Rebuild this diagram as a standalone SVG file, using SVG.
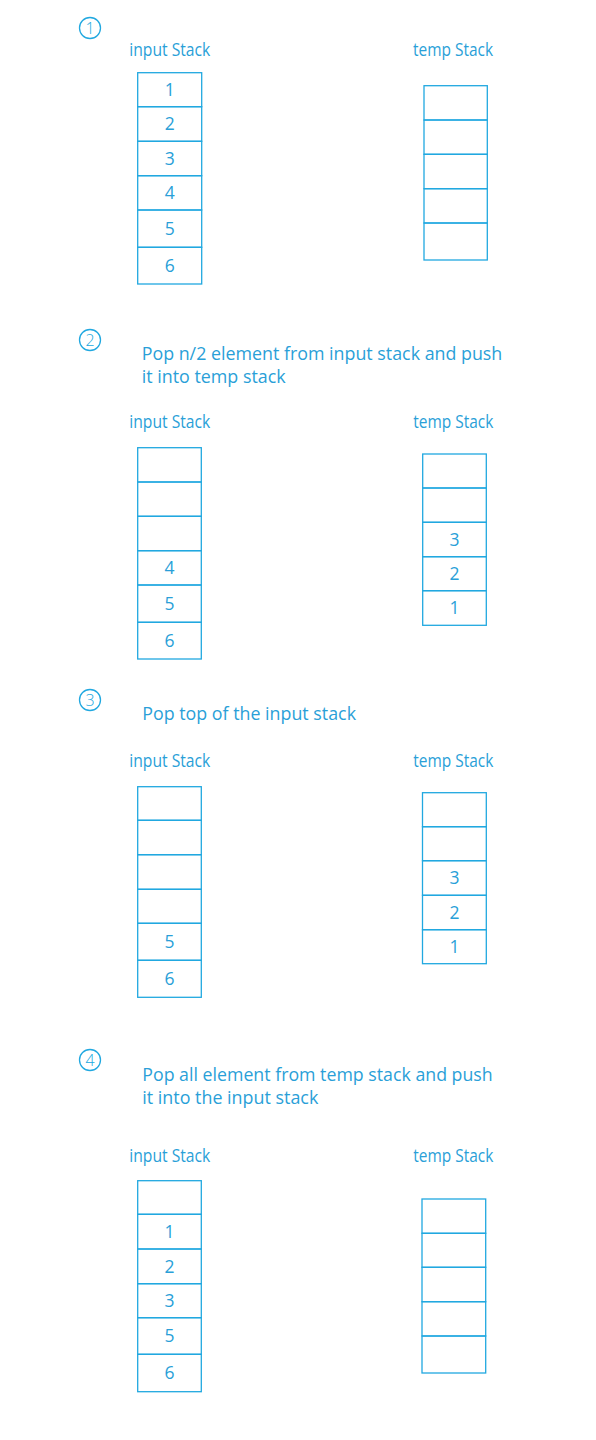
<svg xmlns="http://www.w3.org/2000/svg" width="596" height="1440" viewBox="0 0 596 1440">
<style>
.bg{fill:#ffffff}
.cell{fill:none;stroke:#21a8e0;stroke-width:1.3}
.num{font-family:"Open Sans","Noto Sans",sans-serif;font-size:17.5px;fill:#2a9fd8;text-anchor:middle}
.lbl{font-family:"Open Sans","Noto Sans",sans-serif;font-size:18.5px;fill:#2a9fd8}
.desc{font-family:"Open Sans","Noto Sans",sans-serif;font-size:18.6px;fill:#2a9fd8}
.step{fill:none;stroke:#21a8e0;stroke-width:1.3}
.stepn{font-family:"Open Sans","Noto Sans",sans-serif;font-size:16px;font-weight:300;fill:#21a8e0;text-anchor:middle}
</style>
<rect class="bg" x="0" y="0" width="596" height="1440"/>

<!-- Step 1 -->
<g id="step1">
  <circle class="step" cx="90" cy="28" r="10.5"/>
  <text class="stepn" x="90" y="33.7">1</text>
  <text class="lbl" x="129.3" y="56" textLength="81" lengthAdjust="spacingAndGlyphs">input Stack</text>
  <text class="lbl" x="413" y="56" textLength="80" lengthAdjust="spacingAndGlyphs">temp Stack</text>
</g>
<g id="input1">
  <rect class="cell" x="137.7" y="72.7" width="64" height="34"/>
  <rect class="cell" x="137.7" y="106.7" width="64" height="34.6"/>
  <rect class="cell" x="137.7" y="141.3" width="64" height="34.4"/>
  <rect class="cell" x="137.7" y="175.7" width="64" height="34.3"/>
  <rect class="cell" x="137.7" y="210" width="64" height="37.3"/>
  <rect class="cell" x="137.7" y="247.3" width="64" height="36.7"/>
  <text class="num" x="169.7" y="95.9">1</text>
  <text class="num" x="169.7" y="130.2">2</text>
  <text class="num" x="169.7" y="164.7">3</text>
  <text class="num" x="169.7" y="199">4</text>
  <text class="num" x="169.7" y="234.8">5</text>
  <text class="num" x="169.7" y="271.8">6</text>
</g>
<g id="temp1">
  <rect class="cell" x="424" y="85.7" width="63.3" height="34.3"/>
  <rect class="cell" x="424" y="120" width="63.3" height="34.3"/>
  <rect class="cell" x="424" y="154.3" width="63.3" height="34.4"/>
  <rect class="cell" x="424" y="188.7" width="63.3" height="34.3"/>
  <rect class="cell" x="424" y="223" width="63.3" height="37"/>
</g>

<!-- Step 2 -->
<g id="step2">
  <circle class="step" cx="90" cy="340" r="10.5"/>
  <text class="stepn" x="90" y="345.7">2</text>
  <text class="desc" x="141.7" y="360" textLength="360.6" lengthAdjust="spacingAndGlyphs">Pop n/2 element from input stack and push</text>
  <text class="desc" x="141.7" y="383.3" textLength="144" lengthAdjust="spacingAndGlyphs">it into temp stack</text>
  <text class="lbl" x="129.3" y="428.3" textLength="81" lengthAdjust="spacingAndGlyphs">input Stack</text>
  <text class="lbl" x="413.3" y="428.3" textLength="80" lengthAdjust="spacingAndGlyphs">temp Stack</text>
</g>
<g id="input2">
  <rect class="cell" x="137.7" y="447.7" width="63.6" height="34.3"/>
  <rect class="cell" x="137.7" y="482" width="63.6" height="34.3"/>
  <rect class="cell" x="137.7" y="516.3" width="63.6" height="34.4"/>
  <rect class="cell" x="137.7" y="550.7" width="63.6" height="34.3"/>
  <rect class="cell" x="137.7" y="585" width="63.6" height="37.3"/>
  <rect class="cell" x="137.7" y="622.3" width="63.6" height="36.7"/>
  <text class="num" x="169.5" y="574.1">4</text>
  <text class="num" x="169.5" y="609.8">5</text>
  <text class="num" x="169.5" y="646.8">6</text>
</g>
<g id="temp2">
  <rect class="cell" x="422.7" y="454" width="63.6" height="34"/>
  <rect class="cell" x="422.7" y="488" width="63.6" height="34.3"/>
  <rect class="cell" x="422.7" y="522.3" width="63.6" height="34.4"/>
  <rect class="cell" x="422.7" y="556.7" width="63.6" height="34"/>
  <rect class="cell" x="422.7" y="590.7" width="63.6" height="34.6"/>
  <text class="num" x="454.5" y="545.7">3</text>
  <text class="num" x="454.5" y="579.9">2</text>
  <text class="num" x="454.5" y="614.2">1</text>
</g>

<!-- Step 3 -->
<g id="step3">
  <circle class="step" cx="90" cy="700" r="10.5"/>
  <text class="stepn" x="90" y="705.7">3</text>
  <text class="desc" x="142.3" y="720" textLength="213.7" lengthAdjust="spacingAndGlyphs">Pop top of the input stack</text>
  <text class="lbl" x="129.3" y="767.3" textLength="81" lengthAdjust="spacingAndGlyphs">input Stack</text>
  <text class="lbl" x="413.3" y="767.3" textLength="80" lengthAdjust="spacingAndGlyphs">temp Stack</text>
</g>
<g id="input3">
  <rect class="cell" x="137.7" y="786.7" width="63.6" height="33.6"/>
  <rect class="cell" x="137.7" y="820.3" width="63.6" height="34.4"/>
  <rect class="cell" x="137.7" y="854.7" width="63.6" height="34.6"/>
  <rect class="cell" x="137.7" y="889.3" width="63.6" height="34"/>
  <rect class="cell" x="137.7" y="923.3" width="63.6" height="37"/>
  <rect class="cell" x="137.7" y="960.3" width="63.6" height="37"/>
  <text class="num" x="169.5" y="948">5</text>
  <text class="num" x="169.5" y="985">6</text>
</g>
<g id="temp3">
  <rect class="cell" x="422.5" y="792.7" width="63.8" height="34"/>
  <rect class="cell" x="422.5" y="826.7" width="63.8" height="34"/>
  <rect class="cell" x="422.5" y="860.7" width="63.8" height="34.6"/>
  <rect class="cell" x="422.5" y="895.3" width="63.8" height="34.4"/>
  <rect class="cell" x="422.5" y="929.7" width="63.8" height="34"/>
  <text class="num" x="454.4" y="884.2">3</text>
  <text class="num" x="454.4" y="918.7">2</text>
  <text class="num" x="454.4" y="952.9">1</text>
</g>

<!-- Step 4 -->
<g id="step4">
  <circle class="step" cx="90" cy="1060" r="10.5"/>
  <text class="stepn" x="90" y="1065.7">4</text>
  <text class="desc" x="142.3" y="1080.7" textLength="350.4" lengthAdjust="spacingAndGlyphs">Pop all element from temp stack and push</text>
  <text class="desc" x="142.3" y="1104" textLength="176" lengthAdjust="spacingAndGlyphs">it into the input stack</text>
  <text class="lbl" x="129.3" y="1161.7" textLength="81" lengthAdjust="spacingAndGlyphs">input Stack</text>
  <text class="lbl" x="413.3" y="1161.7" textLength="80" lengthAdjust="spacingAndGlyphs">temp Stack</text>
</g>
<g id="input4">
  <rect class="cell" x="137.7" y="1180.7" width="63.6" height="33.6"/>
  <rect class="cell" x="137.7" y="1214.3" width="63.6" height="34.7"/>
  <rect class="cell" x="137.7" y="1249" width="63.6" height="34.7"/>
  <rect class="cell" x="137.7" y="1283.7" width="63.6" height="34"/>
  <rect class="cell" x="137.7" y="1317.7" width="63.6" height="36.6"/>
  <rect class="cell" x="137.7" y="1354.3" width="63.6" height="37.4"/>
  <text class="num" x="169.5" y="1237.9">1</text>
  <text class="num" x="169.5" y="1272.6">2</text>
  <text class="num" x="169.5" y="1306.9">3</text>
  <text class="num" x="169.5" y="1342.2">5</text>
  <text class="num" x="169.5" y="1379.2">6</text>
</g>
<g id="temp4">
  <rect class="cell" x="422" y="1199" width="63.7" height="34.3"/>
  <rect class="cell" x="422" y="1233.3" width="63.7" height="34"/>
  <rect class="cell" x="422" y="1267.3" width="63.7" height="34.4"/>
  <rect class="cell" x="422" y="1301.7" width="63.7" height="34.3"/>
  <rect class="cell" x="422" y="1336" width="63.7" height="37"/>
</g>
<g id="connectors"></g>
</svg>
